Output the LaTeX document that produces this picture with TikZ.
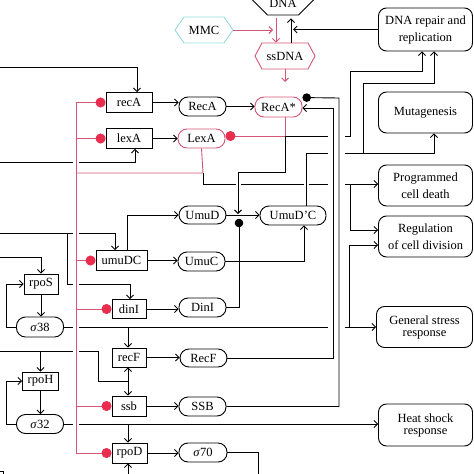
\documentclass[tikz,border=0pt]{standalone}
\usepackage{fontspec}
\setmainfont{Liberation Serif}
\usetikzlibrary{arrows.meta,calc}
\definecolor{pk}{RGB}{212,86,116}
\definecolor{dotred}{RGB}{233,45,78}
\definecolor{cy}{RGB}{150,220,220}
\begin{document}
\begin{tikzpicture}[x=1pt,y=-1pt,line width=0.9pt,
  >={Straight Barb[length=3.5pt,width=7pt]},
  font=\fontsize{12.5}{14}\selectfont,
  gene/.style={draw,rectangle,inner sep=0pt,minimum height=20pt},
  prot/.style={draw,rectangle,rounded corners=9pt,inner sep=0pt,minimum height=19pt,minimum width=47pt},
  outc/.style={draw,rectangle,rounded corners=8pt,inner sep=0pt,minimum width=94pt,align=center,font=\fontsize{12.5}{17}\selectfont},
  outt/.style={outc,font=\fontsize{12.5}{12}\selectfont},
  hexl/.style={inner sep=0pt},
  inh/.style={pk,-{Circle[length=10pt,color=dotred,fill=dotred]}},
  binh/.style={-{Circle[length=8.5pt]}}]
\useasboundingbox (0,0) rectangle (474,474);
\clip (0,0) rectangle (474,474);

% hexagons
\draw (252.5,0) -- (267.5,-15) -- (298.5,-15) -- (313.5,0) -- (298.5,15) -- (267.5,15) -- cycle;
\node[hexl,minimum width=61pt,minimum height=30pt] (DNA) at (283,3) {DNA};
\draw[cy] (175,30) -- (184,17) -- (224,17) -- (233,30) -- (224,43) -- (184,43) -- cycle;
\node[hexl,minimum width=58pt,minimum height=26pt] (MMC) at (204,30) {MMC};
\draw[pk] (255,56) -- (262,43) -- (308,43) -- (315,56) -- (308,69) -- (262,69) -- cycle;
\node[hexl,minimum width=60pt,minimum height=26pt] (ssDNA) at (285,56) {ssDNA};

% genes
\node[gene,minimum width=46pt] (recA) at (129,102.5) {recA};
\node[gene,minimum width=46pt] (lexA) at (129,138.5) {lexA};
\node[gene,minimum width=51pt] (umuDC) at (121.5,260.5) {umuDC};
\node[gene,minimum width=34pt,minimum height=19pt] (dinI) at (129,309) {dinI};
\node[gene,minimum width=34pt] (rpoS) at (41,284) {rpoS};
\node[gene,minimum width=34pt,minimum height=19pt] (recF) at (129,357.5) {recF};
\node[gene,minimum width=34pt] (ssb) at (129,406) {ssb};
\node[gene,minimum width=36pt,minimum height=18pt] (rpoH) at (40.5,381) {rpoH};
\node[gene,minimum width=35pt] (rpoD) at (129.5,453) {rpoD};

% proteins
\node[prot] (RecA) at (202.5,106.5) {RecA};
\node[prot,draw=pk] (LexA) at (201.5,138.5) {LexA};
\node[prot,draw=pk,minimum height=20pt] (RecAs) at (278.5,107) {RecA*};
\node[prot,minimum height=18pt] (UmuD) at (202.5,215) {UmuD};
\node[prot] (UmuC) at (201.5,261.5) {UmuC};
\node[prot,minimum width=66pt] (UmuDpC) at (293,215.5) {UmuD’C};
\node[prot] (DinI) at (202.5,307.5) {DinI};
\node[prot,minimum height=20pt] (s38) at (40,327) {\textit{σ}38};
\node[prot,minimum height=18pt] (RecF) at (203.5,358) {RecF};
\node[prot] (SSB) at (202.5,406.5) {SSB};
\node[prot] (s32) at (40,424) {\textit{σ}32};
\node[prot,minimum width=48pt] (s70) at (203,452.5) {\textit{σ}70};

% outcomes
\node[outc,minimum height=43pt] (DNArep) at (425.5,29.5) {DNA repair and\\replication};
\node[outc,minimum height=41pt] (Mut) at (425.5,112.5) {Mutagenesis};
\node[outc,minimum height=41pt] (PCD) at (425.5,185.5) {Programmed\\cell death};
\node[outc,minimum height=41pt] (Reg) at (425.5,236.5) {Regulation\\of cell division};
\node[outt,minimum height=41pt,minimum width=96pt] (GSR) at (424.5,327) {General stress\\response};
\node[outt,minimum height=42pt] (HSR) at (425.5,425) {Heat shock\\response};

% free-end coordinates
\coordinate (mmcEnd) at (273,30);
\coordinate (pkx) at (276,0);
\coordinate (bkx) at (291,0);
\coordinate (ssEnd) at (285,82);
\coordinate (bus) at (76,0);
\coordinate (inRecA) at (0,67);
\coordinate (inLexA) at (0,162);
\coordinate (inUmu) at (0,233);
\coordinate (inRpoS) at (0,257);
\coordinate (inRpoH) at (0,351);
\coordinate (inRpoD) at (128,474);
\coordinate (outS70) at (258,474);
\coordinate (rsa) at (285,136);
\coordinate (lexTurn) at (203,173);

% top: DNA damage
\draw[pk,->] (MMC.east) -- (mmcEnd);
\draw[pk,->] (DNA.south -| pkx) -- (ssDNA.north -| pkx);
\draw[->] (ssDNA.north -| bkx) -- (DNA.south -| bkx);
\draw[->] (DNArep.west) -- ([xshift=2pt]DNArep.west -| bkx);
\draw[pk,->] (ssDNA.south) -- (ssEnd);

% recA / lexA
\draw[->] (inRecA) -| ([xshift=8pt]recA.north);
\draw[->] (recA.east) -- (RecA.west |- recA.east);
\draw[->] (RecA.east) -- (RecAs.west |- RecA.east);
\draw[->] (lexA.east) -- (LexA.west |- lexA.east);
\draw (inLexA) -- (73,162);
\draw[->] (79,162) -| ([xshift=6pt]lexA.south);

% LexA repression bus
\draw[pk] (76,102.5) -- (76,453);
\draw[inh] (recA.west -| bus) -- (recA.west);
\draw[inh] (lexA.west -| bus) -- (lexA.west);
\draw[inh] (umuDC.west -| bus) -- (umuDC.west);
\draw[inh] (dinI.west -| bus) -- (dinI.west);
\draw[inh] (ssb.west -| bus) -- (ssb.west);
\draw[inh] (rpoD.west -| bus) -- (rpoD.west);
\draw[pk] (LexA.south) -- (lexTurn) -- (lexTurn -| bus);

% RecA* outputs
\draw[pk] (RecAs.south -| rsa) -- (rsa);
\draw[inh] (rsa) -- (LexA.east |- rsa);
\draw (rsa) -- (285,172) -- (238,172);
\draw[->] (238,172) -- (238,214);
\draw (rsa) -- (328,136);
\draw[->] (345,136) -- (350,136) -- (350,71) -| ([xshift=-3.5pt]DNArep.south);

% UmuD'C outputs
\draw ([xshift=13pt]UmuDpC.north) -- (306,153) -- (328,153);
\draw[->] (345,153) -| ([xshift=8.5pt]Mut.south);
\draw[->] (363,153) -- (363,83) -| ([xshift=8.5pt]DNArep.south);

% line at y=184
\draw (lexTurn) -- (203,184) -- (235.5,184);
\draw (240.5,184) -- (303.5,184);
\draw (308.5,184) -- (328,184);
\draw[->] (345,184) -- (PCD.west |- 345,184);
\draw[->] (350,184) |- ([yshift=6.5pt]Reg.west);

% umuDC module
\draw[->] (UmuD.east) -- (UmuDpC.west |- UmuD.east);
\draw[binh] (DinI.east) -| (239,218.75);
\draw[->] (UmuC.east) -| ([xshift=11pt]UmuDpC.south);
\draw[->] (umuDC.east) -- (UmuC.west |- umuDC.east);
\draw[->] ([xshift=5.5pt]umuDC.north) |- (UmuD.west);
\draw (inUmu) -- (73,233);
\draw[->] (79,233) -| ([xshift=-6.5pt]umuDC.north);
\draw (67,233) -- (67,284) -- (73,284);
\draw[->] (79,284) -| ([xshift=1pt]dinI.north);
\draw[->] (dinI.east) -- (DinI.west |- dinI.east);

% rpoS / sigma38
\draw[->] (inRpoS) -| (rpoS.north);
\draw[->] (rpoS.south) -- (rpoS.south |- s38.north);
\draw[->] (s38.west) -- ++(-10,0) |- (rpoS.west);
\draw (s38.east) -- (73,327);
\draw (79,327) -- (328,327);
\draw[->] (128,327) -- ([xshift=-1pt]recF.north);
\draw[->] (345,327) -- (GSR.west);
\draw[->] (349,327) |- ([yshift=-8.5pt]Reg.west);

% rpoH / sigma32
\draw (inRpoH) -- (73,351);
\draw (79,351) -- (98,351) -- (98,381) -- (128,381);
\draw[->] (rpoH.north |- inRpoH) -- (rpoH.north);
\draw[->] (128,381) -- ([xshift=-1pt]recF.south);
\draw[->] (128,381) -- ([xshift=-1pt]ssb.north);
\draw[->] (rpoH.south) -- (rpoH.south |- s32.north);
\draw[->] (s32.west) -- ++(-10,0) |- (rpoH.west);
\draw (s32.east) -- (73,424);
\draw[->] (79,424) -- (HSR.west |- 79,424);
\draw[->] (128,424) -- ([xshift=-1.5pt]rpoD.north);

% recF, ssb, rpoD
\draw[->] (recF.east) -- (RecF.west |- recF.east);
\draw[->] (RecF.east) -- (333,358) -- (333,108) -- ([yshift=-1pt]RecAs.east);
\draw[->] (ssb.east) -- (SSB.west |- ssb.east);
\draw[binh] (SSB.east) -- (339,406.5) -- (339,98) -- ([yshift=-1pt]RecAs.north east);
\draw[->] (rpoD.east) -- (s70.west |- rpoD.east);
\draw (s70.east) -- (258,452.5) -- (outS70);
\draw[->] (inRpoD) -- ([xshift=-1.5pt]rpoD.south);
\draw (0,471) -- (3,471) -- (3,474);
\end{tikzpicture}
\end{document}
